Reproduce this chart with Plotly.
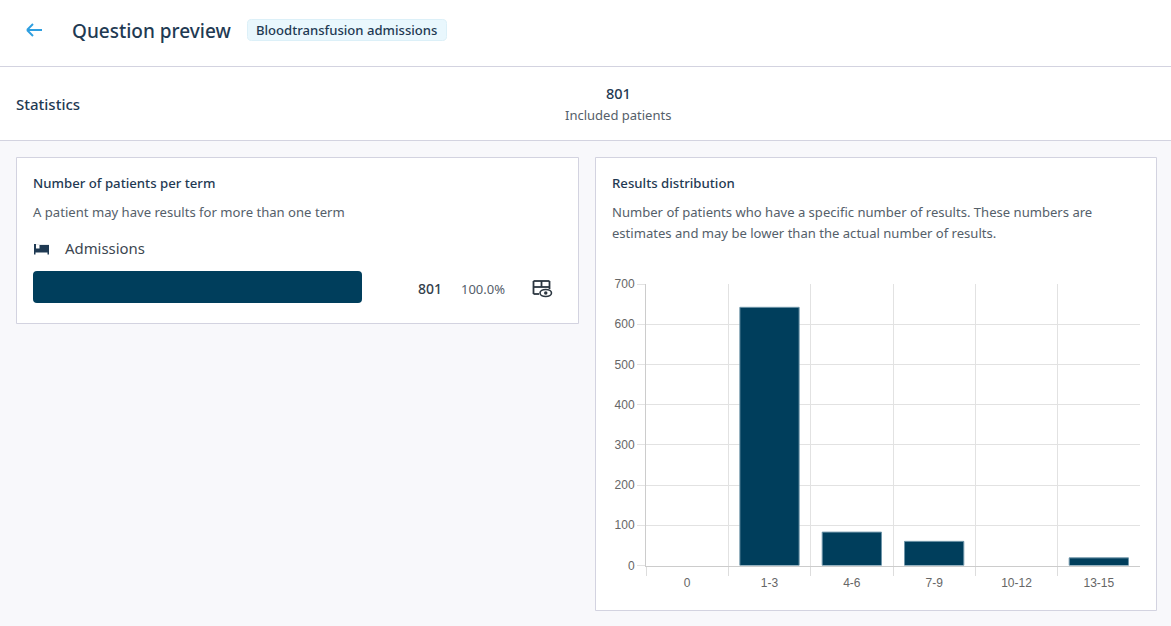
import plotly.graph_objects as go

W, H = 1171, 626

# Data
categories = ["0", "1-3", "4-6", "7-9", "10-12", "13-15"]
patients = [0, 642, 83, 60, 0, 19]
term_names = ["Admissions"]
term_counts = [801]
included_patients = 801
y_ticks = [0, 100, 200, 300, 400, 500, 600, 700]

NAVY = "#003e5c"
DARK = "#1f3a53"
GREY = "#55606a"
LINE = "#d3d3e0"
BG = "#f8f8fb"
SANS = "Noto Sans"


def px(x):
    return x / W


def py(y):
    return 1 - y / H


fig = go.Figure()

fig.add_trace(go.Bar(
    x=categories, y=patients,
    marker=dict(color=NAVY, line=dict(width=[1 if v > 0 else 0 for v in patients], color="#6f96aa")),
    xaxis="x", yaxis="y", hoverinfo="x+y", showlegend=False,
))
fig.add_trace(go.Bar(
    x=term_counts, y=term_names, orientation="h",
    marker=dict(color=NAVY, line=dict(width=0), cornerradius=4),
    xaxis="x2", yaxis="y2", hoverinfo="x", showlegend=False, width=1,
))

shapes = []


def rect(x0, y0, x1, y1, fill, line=None, lw=1, layer="below"):
    shapes.append(dict(type="rect", xref="paper", yref="paper",
                       x0=px(x0), y0=py(y0), x1=px(x1), y1=py(y1),
                       fillcolor=fill, line=dict(color=line or fill, width=lw if line else 0),
                       layer=layer))


def hline(x0, x1, y, color=LINE, lw=1):
    shapes.append(dict(type="line", xref="paper", yref="paper",
                       x0=px(x0), x1=px(x1), y0=py(y), y1=py(y),
                       line=dict(color=color, width=lw), layer="below"))


def seg(x0, y0, x1, y1, color, lw=1.5):
    shapes.append(dict(type="line", xref="paper", yref="paper",
                       x0=px(x0), x1=px(x1), y0=py(y0), y1=py(y1),
                       line=dict(color=color, width=lw), layer="above"))


def path(points, fill, line=None, lw=1, layer="above"):
    # points: list of (cmd, coords...) in page pixels
    parts = []
    for item in points:
        cmd, coords = item[0], item[1:]
        vals = []
        for i in range(0, len(coords), 2):
            vals.append(f"{px(coords[i]):.5f},{py(coords[i + 1]):.5f}")
        parts.append(cmd + " ".join(vals))
    shapes.append(dict(type="path", xref="paper", yref="paper", path=" ".join(parts) + " Z",
                       fillcolor=fill, line=dict(color=line or fill, width=lw if line else 0),
                       layer=layer))


# Page regions
rect(0, 0, 1171, 66.5, "#ffffff")
rect(0, 67, 1171, 140.5, "#ffffff")
hline(0, 1171, 66.5)
hline(0, 1171, 140.5)
rect(16.5, 157.5, 578.5, 323.5, "#ffffff", LINE)
rect(595.5, 157.5, 1156.5, 610.5, "#ffffff", LINE)

# Badge with rounded corners
bx0, by0, bx1, by1, br = 247.5, 19.5, 446.5, 40.5, 4
path([("M", bx0 + br, by0), ("L", bx1 - br, by0), ("Q", bx1, by0, bx1, by0 + br),
      ("L", bx1, by1 - br), ("Q", bx1, by1, bx1 - br, by1), ("L", bx0 + br, by1),
      ("Q", bx0, by1, bx0, by1 - br), ("L", bx0, by0 + br), ("Q", bx0, by0, bx0 + br, by0)],
     "#e9f7fd", "#dcf0f8", layer="below")

# Round the two corners at the start of the term bar
path([("M", 33, 271), ("L", 37, 271), ("Q", 33, 271, 33, 275)], "#ffffff")
path([("M", 33, 303), ("L", 37, 303), ("Q", 33, 303, 33, 299)], "#ffffff")

# Back arrow
ARROW = "#2f9fe0"
seg(27, 30, 42, 30, ARROW, 2)
seg(27, 30, 33, 24, ARROW, 2)
seg(27, 30, 33, 36, ARROW, 2)

# Bed icon
BED = "#1f3a53"
rect(34, 244, 49, 252.5, BED, layer="above")
rect(36, 245, 39.5, 248.5, "#ffffff", layer="above")
rect(36, 244, 49, 244.9, "#ffffff", layer="above")
rect(34, 252, 35.5, 254.5, BED, layer="above")
rect(47.5, 252, 49, 254.5, BED, layer="above")

# Table with eye icon
ICON = "#2b3640"
seg(533.5, 281, 549.5, 281, ICON, 1.8)
seg(533.5, 287, 549.5, 287, ICON, 1.8)
seg(533.5, 281, 533.5, 294, ICON, 1.8)
seg(549.5, 281, 549.5, 289, ICON, 1.8)
seg(541.5, 281, 541.5, 287, ICON, 1.8)
seg(533.5, 294, 539, 294, ICON, 1.8)
shapes.append(dict(type="circle", xref="paper", yref="paper",
                   x0=px(540), x1=px(551.5), y0=py(296.5), y1=py(289.5),
                   fillcolor="#ffffff", line=dict(color=ICON, width=1.6), layer="above"))
shapes.append(dict(type="circle", xref="paper", yref="paper",
                   x0=px(544), x1=px(547.5), y0=py(294.8), y1=py(291.3),
                   fillcolor=ICON, line=dict(width=0), layer="above"))


annotations = []


def text(x, y, s, size, color, anchor="left", weight=400, family=SANS):
    annotations.append(dict(xref="paper", yref="paper", x=px(x), y=py(y), text=s,
                            xanchor=anchor, yanchor="middle", showarrow=False,
                            font=dict(size=size, color=color, family=family, weight=weight),
                            borderpad=0, align=anchor))


text(71, 31, "Question preview", 19, DARK, weight=500)
text(255, 30, "Bloodtransfusion admissions", 13.1, DARK, weight=500)
text(15, 104, "Statistics", 15, DARK, weight=500)
text(618.5, 93, str(included_patients), 14.5, DARK, "center", weight=500)
text(618, 115, "Included patients", 13, GREY, "center")
text(32, 183, "Number of patients per term", 13.2, DARK, weight=500)
text(32, 212, "A patient may have results for more than one term", 13.1, GREY)
text(64, 248, term_names[0], 14.9, "#3c4650")
text(429.5, 288.5, str(term_counts[0]), 14, "#33404c", "center", weight=500)
text(483, 289, "100.0%", 13, GREY, "center")
text(611, 183, "Results distribution", 13.2, DARK, weight=500)
text(611, 212, "Number of patients who have a specific number of results. These numbers are", 13.07, GREY)
text(611, 233, "estimates and may be lower than the actual number of results.", 13.07, GREY)

GRID = "#e2e2e2"
TICK = "#666666"
fig.update_layout(
    width=W, height=H,
    margin=dict(l=0, r=0, t=0, b=0, autoexpand=False),
    paper_bgcolor=BG, plot_bgcolor="rgba(0,0,0,0)",
    bargap=0.28,
    shapes=shapes, annotations=annotations,
    showlegend=False,
    xaxis=dict(
        domain=[px(646), px(1140)], anchor="y", type="category", automargin=False,
        categoryorder="array", categoryarray=categories,
        tickson="boundaries", ticks="outside", ticklen=9, tickcolor="#dddddd",
        ticklabelstandoff=6,
        showgrid=True, gridcolor=GRID, gridwidth=1,
        showline=True, linecolor="#cccccc", linewidth=1, zeroline=False,
        tickfont=dict(family="Liberation Sans", size=12, color=TICK),
        fixedrange=True,
    ),
    yaxis=dict(
        domain=[py(565.5), py(284)], anchor="x", range=[0, 700], automargin=False,
        tickmode="array", tickvals=y_ticks,
        ticks="outside", ticklen=8, tickcolor="#e2e2e2",
        showgrid=True, gridcolor=GRID, gridwidth=1,
        showline=True, linecolor="#cccccc", linewidth=1, zeroline=False,
        tickfont=dict(family="Liberation Sans", size=12, color=TICK),
        fixedrange=True,
    ),
    xaxis2=dict(
        domain=[px(33), px(362)], anchor="y2", range=[0, included_patients],
        visible=False, fixedrange=True, automargin=False,
    ),
    yaxis2=dict(
        domain=[py(303), py(271)], anchor="x2", type="category",
        visible=False, fixedrange=True, automargin=False,
    ),
)

fig.write_html("out.html", config=dict(displayModeBar=False),
               post_script="document.body.style.margin='0';document.body.style.overflow='hidden';")
